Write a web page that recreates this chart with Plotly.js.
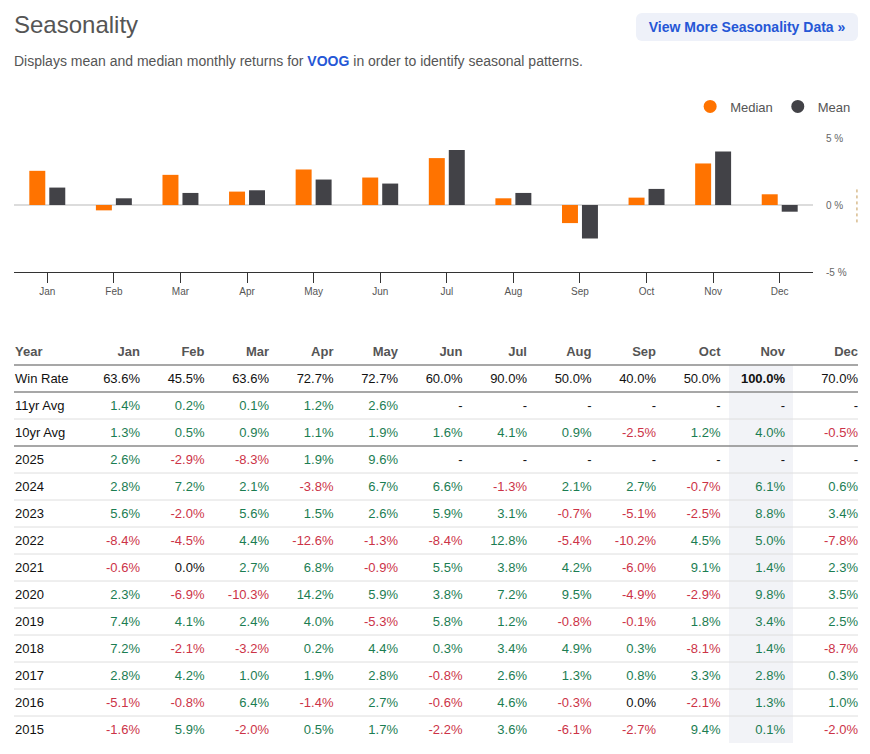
<!DOCTYPE html>
<html>
<head>
<meta charset="utf-8">
<script src="https://cdn.plot.ly/plotly-3.0.1.min.js"></script>
<style>
  html, body { margin:0; padding:0; background:#fff; width:870px; height:754px; overflow:hidden;
    font-family:"Liberation Sans", Arial, sans-serif; }
  #title { position:absolute; left:14px; top:11px; font-size:24px; color:#555; }
  #btn { position:absolute; left:636px; top:13px; width:222px; height:28px; background:#eef1f9;
    border-radius:6px; color:#2557d6; font-weight:bold; font-size:14px; line-height:28px; text-align:center; }
  #sub { position:absolute; left:14px; top:53px; font-size:14px; color:#555; }
  #sub b { color:#2557d6; }
  #chart { position:absolute; left:0; top:90px; width:870px; height:215px; }
  #table { position:absolute; left:0; top:338px; width:870px; height:416px; }
</style>
</head>
<body>
<div id="title">Seasonality</div>
<div id="btn">View More Seasonality Data »</div>
<div id="sub">Displays mean and median monthly returns for <b>VOOG</b> in order to identify seasonal patterns.</div>
<div id="chart"></div>
<div id="table"></div>
<script>
// ---------- data ----------
const months = ['Jan','Feb','Mar','Apr','May','Jun','Jul','Aug','Sep','Oct','Nov','Dec'];
const medianReturns = [2.55, -0.4, 2.25, 1.0, 2.65, 2.05, 3.5, 0.5, -1.35, 0.55, 3.1, 0.8];
const meanReturns   = [1.3, 0.5, 0.9, 1.1, 1.9, 1.6, 4.1, 0.9, -2.5, 1.2, 4.0, -0.5];
const yTicks = [-5, 0, 5];
const yTickLabels = ['-5 %', '0 %', '5 %'];

const rowLabels = ['Win Rate','11yr Avg','10yr Avg','2025','2024','2023','2022','2021','2020','2019','2018','2017','2016','2015'];
const winRate = [63.6, 45.5, 63.6, 72.7, 72.7, 60.0, 90.0, 50.0, 40.0, 50.0, 100.0, 70.0];
const avg11yr = [1.4, 0.2, 0.1, 1.2, 2.6, null, null, null, null, null, null, null];
const avg10yr = [1.3, 0.5, 0.9, 1.1, 1.9, 1.6, 4.1, 0.9, -2.5, 1.2, 4.0, -0.5];
const y2025 = [2.6, -2.9, -8.3, 1.9, 9.6, null, null, null, null, null, null, null];
const y2024 = [2.8, 7.2, 2.1, -3.8, 6.7, 6.6, -1.3, 2.1, 2.7, -0.7, 6.1, 0.6];
const y2023 = [5.6, -2.0, 5.6, 1.5, 2.6, 5.9, 3.1, -0.7, -5.1, -2.5, 8.8, 3.4];
const y2022 = [-8.4, -4.5, 4.4, -12.6, -1.3, -8.4, 12.8, -5.4, -10.2, 4.5, 5.0, -7.8];
const y2021 = [-0.6, 0.0, 2.7, 6.8, -0.9, 5.5, 3.8, 4.2, -6.0, 9.1, 1.4, 2.3];
const y2020 = [2.3, -6.9, -10.3, 14.2, 5.9, 3.8, 7.2, 9.5, -4.9, -2.9, 9.8, 3.5];
const y2019 = [7.4, 4.1, 2.4, 4.0, -5.3, 5.8, 1.2, -0.8, -0.1, 1.8, 3.4, 2.5];
const y2018 = [7.2, -2.1, -3.2, 0.2, 4.4, 0.3, 3.4, 4.9, 0.3, -8.1, 1.4, -8.7];
const y2017 = [2.8, 4.2, 1.0, 1.9, 2.8, -0.8, 2.6, 1.3, 0.8, 3.3, 2.8, 0.3];
const y2016 = [-5.1, -0.8, 6.4, -1.4, 2.7, -0.6, 4.6, -0.3, 0.0, -2.1, 1.3, 1.0];
const y2015 = [-1.6, 5.9, -2.0, 0.5, 1.7, -2.2, 3.6, -6.1, -2.7, 9.4, 0.1, -2.0];

// ---------- styles ----------
const ORANGE = '#ff7300', DARK = '#424247';
const GREEN = '#1b7d52', RED = '#cc3347', BLACK = '#111';
const FONT = '"Liberation Sans", Arial, sans-serif';

// ---------- bar chart ----------
const chartTraces = [
  {type:'bar', x:months, y:medianReturns, name:'Median', marker:{color:ORANGE}, showlegend:false, hoverinfo:'skip'},
  {type:'bar', x:months, y:meanReturns, name:'Mean', marker:{color:DARK}, showlegend:false, hoverinfo:'skip'},
  {type:'scatter', mode:'markers', x:[null], y:[null], name:'Median', marker:{color:ORANGE, size:13, symbol:'circle'}},
  {type:'scatter', mode:'markers', x:[null], y:[null], name:'Mean', marker:{color:DARK, size:13, symbol:'circle'}}
];
const chartLayout = {
  width:870, height:215,
  margin:{l:14, r:57, t:47.5, b:32.5, autoexpand:false},
  paper_bgcolor:'rgba(0,0,0,0)', plot_bgcolor:'rgba(0,0,0,0)',
  font:{family:FONT, color:'#555'},
  barmode:'group', bargap:0.4, bargroupgap:0.2,
  showlegend:true,
  legend:{orientation:'h', x:1.054, xanchor:'right', y:1.235, yanchor:'middle',
          font:{size:13, color:'#555'}, itemwidth:30, bgcolor:'rgba(0,0,0,0)', traceorder:'normal'},
  xaxis:{type:'category', categoryarray:months, showgrid:false, zeroline:false,
         showline:true, linecolor:'#333', linewidth:1.3,
         ticks:'outside', ticklen:10, tickcolor:'#333', tickwidth:1,
         tickfont:{size:10, color:'#555'}, fixedrange:true},
  yaxis:{range:[-5,5], side:'right', tickmode:'array', tickvals:yTicks, ticktext:yTickLabels,
         showgrid:true, gridcolor:'#dcdcdc', gridwidth:1.2, zeroline:true, zerolinecolor:'#dcdcdc', zerolinewidth:1.2,
         ticks:'outside', ticklen:10, tickcolor:'rgba(0,0,0,0)',
         tickfont:{size:10, color:'#666'}, showline:false, fixedrange:true},
  shapes:[{type:'line', xref:'paper', yref:'paper', x0:1.055, x1:1.055, y0:0.37, y1:0.63,
           line:{color:'#c49a55', width:1, dash:'dot'}}]
};
Plotly.newPlot('chart', chartTraces, chartLayout, {displayModeBar:false, staticPlot:true});

// ---------- table ----------
const rows = [winRate, avg11yr, avg10yr, y2025, y2024, y2023, y2022, y2021, y2020, y2019, y2018, y2017, y2016, y2015];
const maxWin = Math.max(...winRate);
function fmt(v){ return v === null ? '-' : v.toFixed(1) + '%'; }
const cellValues = [rowLabels.slice()];
const cellColors = [rowLabels.map(() => BLACK)];
const cellWeights = [rowLabels.map(() => 'normal')];
months.forEach((m, ci) => {
  const vals = [], cols = [], wts = [];
  rows.forEach((r, ri) => {
    const v = r[ci];
    vals.push(fmt(v));
    if (ri === 0) {
      cols.push(BLACK);
      wts.push(v === maxWin ? 'bold' : 'normal');
    } else {
      cols.push(v === null || v === 0 ? BLACK : (v > 0 ? GREEN : RED));
      wts.push('normal');
    }
  });
  cellValues.push(vals); cellColors.push(cols); cellWeights.push(wts);
});
const NOVFILL = '#f2f3f7';
const colFill = ['#fff'].concat(months.map(m => m === 'Nov' ? NOVFILL : '#fff'));
const colWidths = [77, 64].concat(Array(10).fill(64.5)).concat([73]);

const TH = 416, ROWH = 27;
const sepShapes = [];
for (let i = 0; i < 14; i++) {
  const ypx = ROWH * (i + 1);
  const dark = (i === 0 || i === 1 || i === 3);
  sepShapes.push({type:'line', xref:'paper', yref:'paper', x0:14/870, x1:858/870,
    y0:1 - ypx/TH, y1:1 - ypx/TH, line:{color: dark ? '#8a8a8a' : '#dedede', width: dark ? 1.3 : 1}});
}

Plotly.newPlot('table', [{
  type:'table',
  domain:{x:[7/870, 866/870], y:[0,1]},
  columnwidth: colWidths,
  header:{
    values: ['Year'].concat(months),
    align: ['left'].concat(months.map(() => 'right')),
    height: ROWH,
    fill:{color:'#fff'}, line:{color:'#fff', width:0},
    font:{family:FONT, size:13, color:'#555', weight:'bold'}
  },
  cells:{
    values: cellValues,
    align: ['left'].concat(months.map(() => 'right')),
    height: ROWH,
    fill:{color: colFill},
    line:{color: colFill, width:0},
    font:{family:FONT, size:13, color: cellColors, weight: cellWeights}
  }
}], {
  width:870, height:TH, margin:{l:0, r:0, t:0, b:0},
  paper_bgcolor:'rgba(0,0,0,0)',
  shapes: sepShapes
}, {displayModeBar:false, staticPlot:true});
</script>
</body>
</html>
